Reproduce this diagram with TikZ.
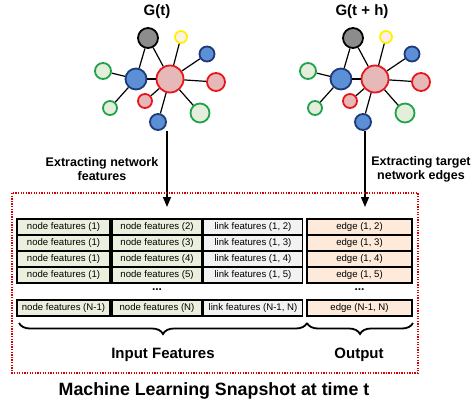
\documentclass[tikz,border=0pt]{standalone}
\usepackage{fontspec}
\setmainfont{Liberation Sans}
\usetikzlibrary{decorations.pathreplacing,arrows.meta}
\definecolor{cgreen}{HTML}{EBF0DE}
\definecolor{cgray}{HTML}{F2F2F2}
\definecolor{cpeach}{HTML}{FDEADA}
\definecolor{ngrayf}{HTML}{8C8C8C}
\definecolor{nbluef}{HTML}{5B8FD6}
\definecolor{nblued}{HTML}{1F3A7A}
\definecolor{ngreend}{HTML}{1FA34A}
\definecolor{ngreenf}{HTML}{E4EEDA}
\definecolor{nredd}{HTML}{E8161C}
\definecolor{nredf}{HTML}{E6B9B8}
\definecolor{nyel}{HTML}{FFF200}
\definecolor{nyelf}{HTML}{FDF0EC}
\tikzset{
  gn/.style={circle,inner sep=0pt,line width=1.8pt},
  ngray/.style={gn,draw=black,fill=ngrayf,minimum size=20pt},
  nyellow/.style={gn,draw=nyel,fill=nyelf,minimum size=12pt},
  nblue/.style={gn,draw=nblued,fill=nbluef},
  ngreen/.style={gn,draw=ngreend,fill=ngreenf},
  nred/.style={gn,draw=nredd,fill=nredf},
  ge/.style={line width=1.2pt,black},
  cell/.style={draw=black,line width=1.1pt,minimum height=16pt,inner sep=0pt,anchor=center,font=\fontsize{9.6}{11}\selectfont},
  c1/.style={cell,fill=cgreen,minimum width=93pt},
  c2/.style={cell,fill=cgreen,minimum width=90pt},
  c3/.style={cell,fill=cgray,minimum width=99pt},
  c4/.style={cell,fill=cpeach,minimum width=105pt},
  lbl/.style={font=\bfseries\fontsize{12.5}{14}\selectfont,align=center},
  arr/.style={line width=1.3pt,-{Triangle[length=10pt,width=8pt]}},
  brc/.style={decorate,decoration={brace,mirror,amplitude=11pt},line width=1.8pt}
}
\begin{document}
\begin{tikzpicture}[x=1pt,y=-1pt]
\useasboundingbox (0,0) rectangle (474,407);
% graphs
\foreach \dx/\nm in {0/a,205/b}{
\begin{scope}[shift={(\dx,0)}]
\node[ngray] (\nm g) at (148,38) {};
\node[nyellow] (\nm y) at (181,37) {};
\node[nblue,minimum size=15pt] (\nm b1) at (207,54) {};
\node[ngreen,minimum size=16pt] (\nm gl) at (103,71) {};
\node[nblue,minimum size=21pt] (\nm bc) at (136,79) {};
\node[nred,minimum size=27pt] (\nm p) at (170,79) {};
\node[nred,minimum size=18pt] (\nm rr) at (216,82) {};
\node[nred,minimum size=14pt] (\nm rs) at (145,101) {};
\node[ngreen,minimum size=14pt] (\nm gb) at (110,108) {};
\node[ngreen,minimum size=19pt] (\nm gr) at (200,113) {};
\node[nblue,minimum size=16pt] (\nm bb) at (158,122) {};
\end{scope}
}
\foreach \nm in {a,b}{
\draw[ge] (\nm g) -- (\nm bc);
\draw[ge] (\nm g) -- (\nm p);
\draw[ge] (\nm y) -- (\nm p);
\draw[ge] (\nm b1) -- (\nm p);
\draw[ge] (\nm gl) -- (\nm bc);
\draw[ge] (\nm bc) -- (\nm p);
\draw[ge] (\nm p) -- (\nm rr);
\draw[ge] (\nm p) -- (\nm rs);
\draw[ge] (\nm gb) -- (\nm bc);
\draw[ge] (\nm p) -- (\nm gr);
\draw[ge] (\nm p) -- (\nm bb);
}
\node[font=\bfseries\fontsize{15}{17}\selectfont] (t1) at (157,12) {G(t)};
\node[font=\bfseries\fontsize{15}{17}\selectfont] (t2) at (362,12) {G(t + h)};
% arrows
\coordinate (a1s) at (167,131);
\coordinate (a1e) at (167,207);
\coordinate (a2s) at (365,131);
\coordinate (a2e) at (365,207);
\draw[arr] (a1s) -- (a1e);
\draw[arr] (a2s) -- (a2e);
\node[lbl] (l1) at (102,169) {Extracting network\\features};
\node[lbl] (l2) at (421,169) {Extracting target\\network edges};
% dotted box
\draw[red!85!black,line width=1.3pt,dash pattern=on 1.3pt off 1.3pt] (12,193) rectangle (418,373);
% table
\foreach \y/\i/\j in {227/1/2,243/1/3,259/1/4,275/1/5}{
  \node[c1] (r\j a) at (63.5,\y) {node features (\i)};
  \node[c2] (r\j b) at (157,\y) {node features (\j)};
  \node[c3] (r\j c) at (253,\y) {link features (\i, \j)};
  \node[c4] (r\j d) at (359.5,\y) {edge (\i, \j)};
}
\node[font=\bfseries\fontsize{12}{12}\selectfont] (d1) at (157,290) {...};
\node[font=\bfseries\fontsize{12}{12}\selectfont] (d2) at (359.5,290) {...};
\node[c1] (rNa) at (63.5,308) {node features (N-1)};
\node[c2] (rNb) at (157,308) {node features (N)};
\node[c3] (rNc) at (253,308) {link features (N-1, N)};
\node[c4] (rNd) at (359.5,308) {edge (N-1, N)};
% braces
\coordinate (b1l) at (19,323);
\coordinate (b1r) at (307,323);
\coordinate (b2l) at (307,323);
\coordinate (b2r) at (413,323);
\draw[brc] (b1l) -- (b1r);
\draw[brc] (b2l) -- (b2r);
\node[font=\bfseries\fontsize{15}{17}\selectfont] (in) at (163,355) {Input Features};
\node[font=\bfseries\fontsize{15}{17}\selectfont] (out) at (359,355) {Output};
\node[font=\bfseries\fontsize{17.8}{20}\selectfont] (ml) at (214,391) {Machine Learning Snapshot at time t};
\end{tikzpicture}
\end{document}
